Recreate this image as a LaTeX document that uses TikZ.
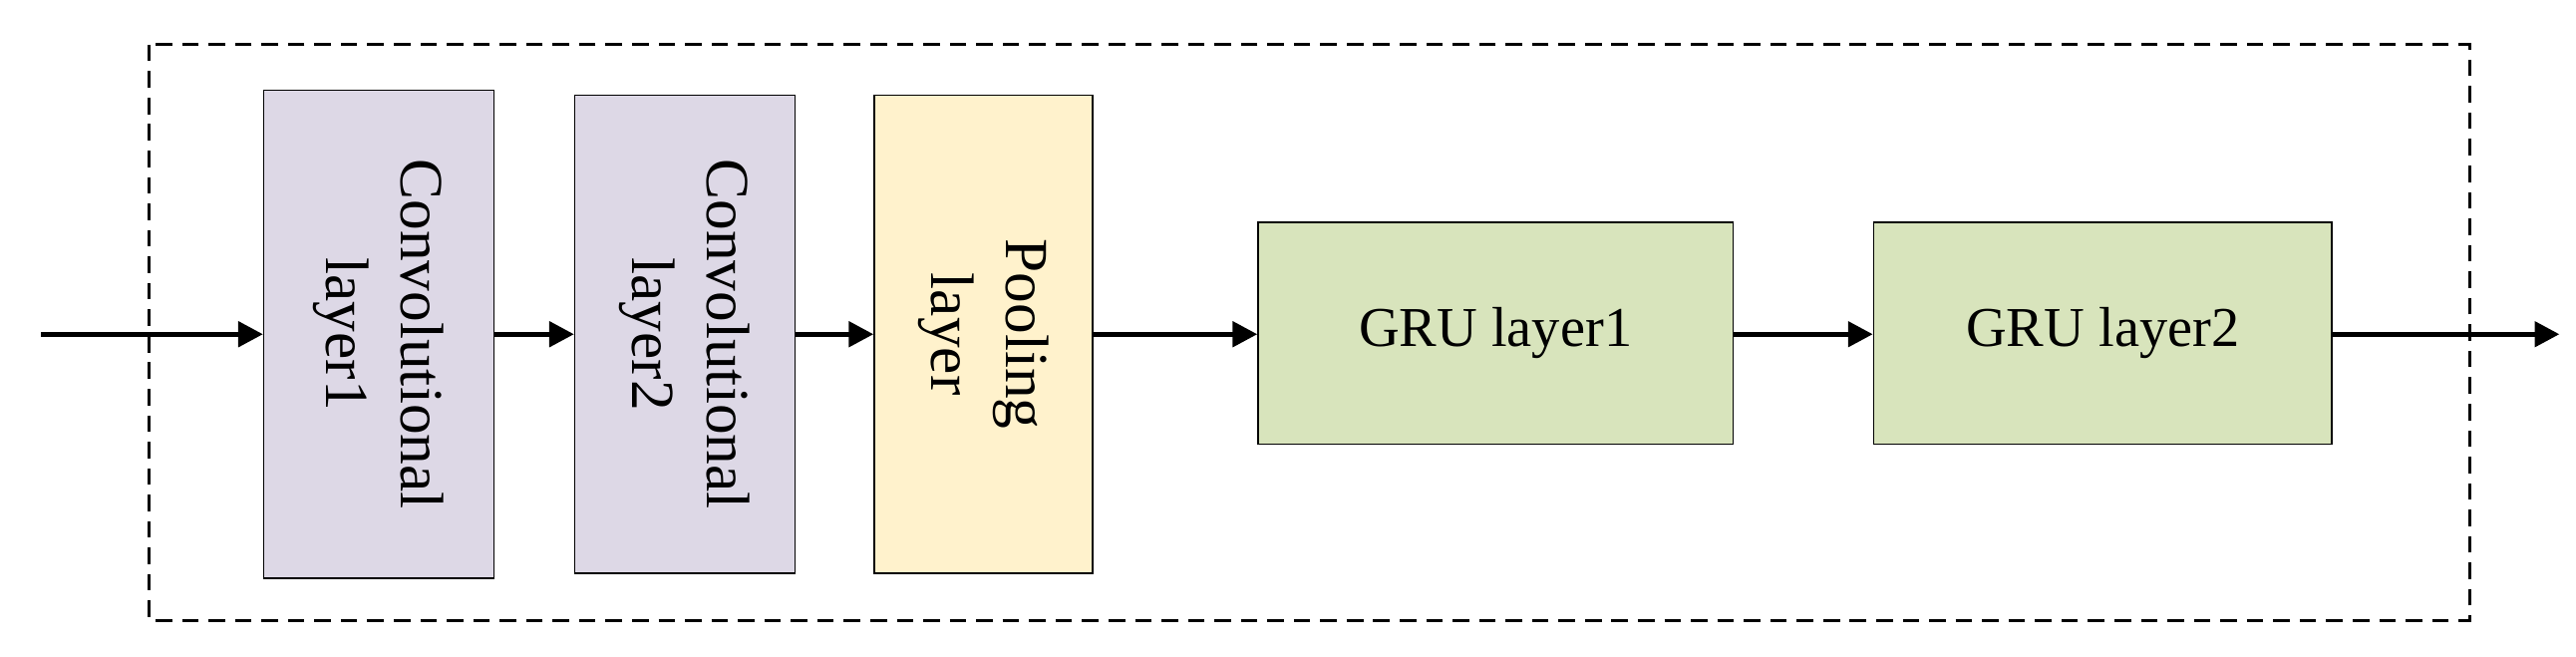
\documentclass[tikz,border=0pt]{standalone}
\usepackage{fontspec}
\setmainfont{Liberation Serif}
\usetikzlibrary{positioning, arrows.meta}

\definecolor{convfill}{HTML}{DDD8E6}
\definecolor{poolfill}{HTML}{FFF2CC}
\definecolor{grufill}{HTML}{D8E4BC}

\begin{document}
\begin{tikzpicture}[x=1pt, y=-1pt,
    layer/.style={draw, line width=0.8pt, anchor=north west, inner sep=0pt,
                  font=\fontsize{34}{34}\selectfont, align=center},
    vtext/.style={rotate=-90, font=\fontsize{37}{45}\selectfont, align=center},
    flow/.style={-{Triangle[length=15pt, width=15pt]}, line width=3.2pt}]

  \useasboundingbox (0,0) rectangle (1557,397);

  \draw[dashed, line width=2pt, dash pattern=on 10pt off 6pt] (90,27) rectangle (1493,375);

  \node[layer, fill=convfill, minimum width=139pt, minimum height=295pt] (c1) at (159,54) {};
  \node[vtext] at (c1.center) {Convolutional\\layer1};
  \node[layer, fill=convfill, minimum width=133pt, minimum height=289pt] (c2) at (347,57) {};
  \node[vtext] at (c2.center) {Convolutional\\layer2};
  \node[layer, fill=poolfill, minimum width=132pt, minimum height=289pt] (pl) at (528,57) {};
  \node[vtext] at (pl.center) {Pooling\\layer};
  \node[layer, fill=grufill, minimum width=287pt, minimum height=134pt] (g1) at (760,134) {GRU layer1};
  \node[layer, fill=grufill, minimum width=277pt, minimum height=134pt] (g2) at (1132,134) {GRU layer2};

  \coordinate (in) at (25,202);
  \coordinate (out) at (1547,202);

  \draw[flow] (in) -- (c1.west |- in);
  \draw[flow] (c1.east |- in) -- (c2.west |- in);
  \draw[flow] (c2.east |- in) -- (pl.west |- in);
  \draw[flow] (pl.east |- in) -- (g1.west |- in);
  \draw[flow] (g1.east |- in) -- (g2.west |- in);
  \draw[flow] (g2.east |- in) -- (out);

\end{tikzpicture}
\end{document}
